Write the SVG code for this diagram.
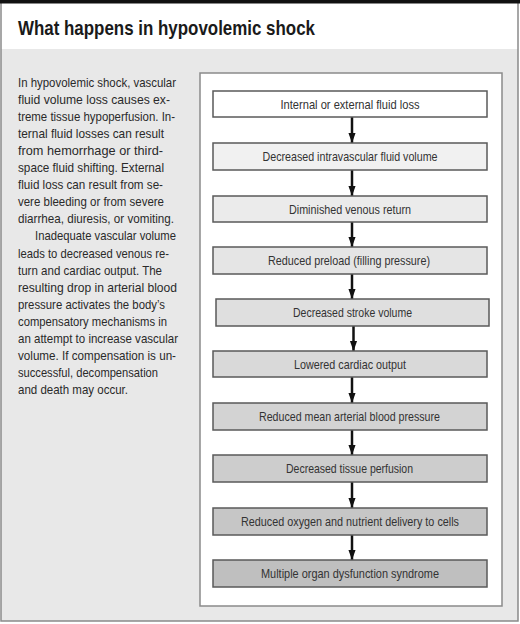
<svg xmlns="http://www.w3.org/2000/svg" width="520" height="624" viewBox="0 0 520 624">
<defs>
<style>
.body{font-family:"Liberation Sans",Arial,sans-serif;font-size:13px;fill:#2a2a2a}
.lbl{font-family:"Liberation Sans",Arial,sans-serif;font-size:13px;fill:#333;text-anchor:middle}
.box{stroke:#5a5a5a;stroke-width:1.5}
.conn{stroke:#111;stroke-width:2.5;fill:none}
</style>
<marker id="ah" markerUnits="userSpaceOnUse" markerWidth="10" markerHeight="14" refX="14" refY="5" orient="auto" viewBox="0 0 14 10">
<path d="M0,0 L14,5 L0,10 Z" fill="#111"/>
</marker>
</defs>
<rect x="0" y="0" width="520" height="624" fill="#ffffff"/>
<rect x="1" y="49" width="517" height="572" fill="#e8e8e8"/>
<rect x="1" y="2" width="517" height="619" fill="none" stroke="#8a8a8a" stroke-width="1.5"/>
<rect x="0" y="0" width="520" height="3.5" fill="#111"/>
<text x="18" y="35" font-family="Liberation Sans,Arial,sans-serif" font-size="21" font-weight="bold" fill="#1a1a1a" textLength="297" lengthAdjust="spacingAndGlyphs">What happens in hypovolemic shock</text>
<g id="description" class="body">
<text x="18" y="87" textLength="158" lengthAdjust="spacingAndGlyphs">In hypovolemic shock, vascular</text>
<text x="18" y="104.05" textLength="152" lengthAdjust="spacingAndGlyphs">fluid volume loss causes ex-</text>
<text x="18" y="121.1" textLength="157" lengthAdjust="spacingAndGlyphs">treme tissue hypoperfusion. In-</text>
<text x="18" y="138.15" textLength="146" lengthAdjust="spacingAndGlyphs">ternal fluid losses can result</text>
<text x="18" y="155.2" textLength="145" lengthAdjust="spacingAndGlyphs">from hemorrhage or third-</text>
<text x="18" y="172.25" textLength="146" lengthAdjust="spacingAndGlyphs">space fluid shifting. External</text>
<text x="18" y="189.3" textLength="145" lengthAdjust="spacingAndGlyphs">fluid loss can result from se-</text>
<text x="18" y="206.35" textLength="146" lengthAdjust="spacingAndGlyphs">vere bleeding or from severe</text>
<text x="18" y="223.4" textLength="156" lengthAdjust="spacingAndGlyphs">diarrhea, diuresis, or vomiting.</text>
<text x="35" y="240.45" textLength="141" lengthAdjust="spacingAndGlyphs">Inadequate vascular volume</text>
<text x="18" y="257.5" textLength="151" lengthAdjust="spacingAndGlyphs">leads to decreased venous re-</text>
<text x="18" y="274.55" textLength="144" lengthAdjust="spacingAndGlyphs">turn and cardiac output. The</text>
<text x="18" y="291.6" textLength="159" lengthAdjust="spacingAndGlyphs">resulting drop in arterial blood</text>
<text x="18" y="308.65" textLength="147" lengthAdjust="spacingAndGlyphs">pressure activates the body’s</text>
<text x="18" y="325.7" textLength="149" lengthAdjust="spacingAndGlyphs">compensatory mechanisms in</text>
<text x="18" y="342.75" textLength="160" lengthAdjust="spacingAndGlyphs">an attempt to increase vascular</text>
<text x="18" y="359.8" textLength="158" lengthAdjust="spacingAndGlyphs">volume. If compensation is un-</text>
<text x="18" y="376.85" textLength="140" lengthAdjust="spacingAndGlyphs">successful, decompensation</text>
<text x="18" y="393.9" textLength="110" lengthAdjust="spacingAndGlyphs">and death may occur.</text>
</g>
<rect id="panel" x="200" y="73" width="302" height="533" fill="#ffffff" stroke="#8a8a8a" stroke-width="1.5"/>
<g id="connectors" class="conn">
<line x1="352" y1="117" x2="352" y2="143" marker-end="url(#ah)"/>
<line x1="352" y1="170" x2="352" y2="196" marker-end="url(#ah)"/>
<line x1="352" y1="222" x2="352" y2="247" marker-end="url(#ah)"/>
<line x1="352" y1="274" x2="352" y2="299" marker-end="url(#ah)"/>
<line x1="353.5" y1="326" x2="353.5" y2="351" marker-end="url(#ah)"/>
<line x1="352" y1="377" x2="352" y2="403" marker-end="url(#ah)"/>
<line x1="352" y1="430" x2="352" y2="455" marker-end="url(#ah)"/>
<line x1="352" y1="482" x2="352" y2="508" marker-end="url(#ah)"/>
<line x1="352" y1="535" x2="352" y2="560" marker-end="url(#ah)"/>
</g>
<g id="n1"><rect class="box" x="213" y="91" width="274" height="26" fill="#ffffff"/><text class="lbl" x="350" y="108.5" textLength="139" lengthAdjust="spacingAndGlyphs">Internal or external fluid loss</text></g>
<g id="n2"><rect class="box" x="213" y="143" width="274" height="27" fill="#f1f1f1"/><text class="lbl" x="350" y="161" textLength="175" lengthAdjust="spacingAndGlyphs">Decreased intravascular fluid volume</text></g>
<g id="n3"><rect class="box" x="213" y="196" width="274" height="26" fill="#ebebeb"/><text class="lbl" x="350" y="213.5" textLength="122" lengthAdjust="spacingAndGlyphs">Diminished venous return</text></g>
<g id="n4"><rect class="box" x="213" y="247" width="274" height="27" fill="#e5e5e5"/><text class="lbl" x="349" y="265" textLength="162" lengthAdjust="spacingAndGlyphs">Reduced preload (filling pressure)</text></g>
<g id="n5"><rect class="box" x="216" y="299" width="273" height="27" fill="#dfdfdf"/><text class="lbl" x="352.5" y="317" textLength="119" lengthAdjust="spacingAndGlyphs">Decreased stroke volume</text></g>
<g id="n6"><rect class="box" x="213" y="351" width="274" height="26" fill="#d9d9d9"/><text class="lbl" x="350" y="368.5" textLength="112" lengthAdjust="spacingAndGlyphs">Lowered cardiac output</text></g>
<g id="n7"><rect class="box" x="213" y="403" width="274" height="27" fill="#d3d3d3"/><text class="lbl" x="349.5" y="421" textLength="181" lengthAdjust="spacingAndGlyphs">Reduced mean arterial blood pressure</text></g>
<g id="n8"><rect class="box" x="213" y="455" width="274" height="27" fill="#cdcdcd"/><text class="lbl" x="349.5" y="473" textLength="127" lengthAdjust="spacingAndGlyphs">Decreased tissue perfusion</text></g>
<g id="n9"><rect class="box" x="213" y="508" width="274" height="27" fill="#c6c6c6"/><text class="lbl" x="350" y="526" textLength="218" lengthAdjust="spacingAndGlyphs">Reduced oxygen and nutrient delivery to cells</text></g>
<g id="n10"><rect class="box" x="213" y="560" width="274" height="27" fill="#bfbfbf"/><text class="lbl" x="350" y="578" textLength="178" lengthAdjust="spacingAndGlyphs">Multiple organ dysfunction syndrome</text></g>
</svg>
